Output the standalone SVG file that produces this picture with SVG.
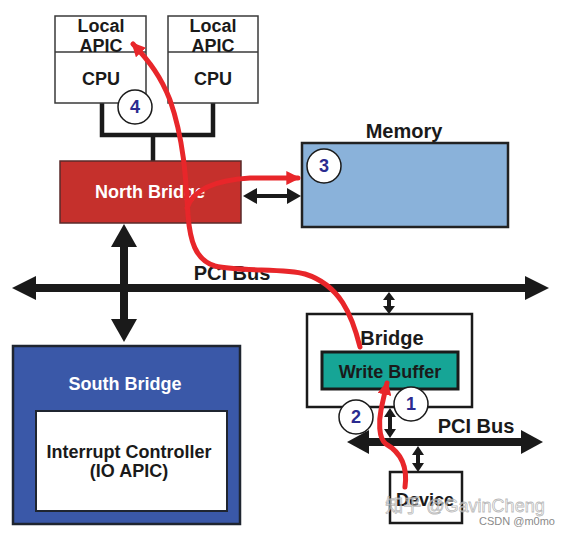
<svg xmlns="http://www.w3.org/2000/svg" width="564" height="535" viewBox="0 0 564 535">
<defs>
<style>
text{font-family:"Liberation Sans",Arial,sans-serif;font-weight:bold;text-anchor:middle}
.box{fill:#fff;stroke:#3a3a3a;stroke-width:1.5}
.t{font-size:18px;fill:#1a1a1a}
.w{font-size:18px;fill:#fff}
.bus{stroke:#1a1a1a;stroke-width:8;fill:none}
.thin{stroke:#1a1a1a;stroke-width:4;fill:none}
.head{fill:#1a1a1a}
.num{fill:#fff;stroke:#1a1a1a;stroke-width:1.5}
.numt{font-size:18px;fill:#2b2b8f}
.red{stroke:#e8262a;stroke-width:5;fill:none;stroke-linecap:round}
</style>
<marker id="ra" viewBox="0 0 12 12" refX="10" refY="6" markerWidth="14" markerHeight="14" markerUnits="userSpaceOnUse" orient="auto">
<path d="M0,0 L12,6 L0,12 Z" fill="#e8262a"/>
</marker>
</defs>
<rect width="564" height="535" fill="#fff"/>

<g id="connectors">
<path stroke="#1a1a1a" stroke-width="4.5" fill="none" d="M102,103 V135 H213 V103 M153,135 V161"/>
<!-- top PCI bus -->
<line class="bus" x1="30" y1="288" x2="530" y2="288"/>
<polygon class="head" points="12,288 36,276 36,300"/>
<polygon class="head" points="549,288 525,276 525,300"/>
<!-- NB-SB -->
<line class="bus" x1="124" y1="244" x2="124" y2="322"/>
<polygon class="head" points="124,224 111,247 137,247"/>
<polygon class="head" points="124,342 111,319 137,319"/>
<!-- NB-Memory -->
<line class="thin" x1="252" y1="196" x2="292" y2="196"/>
<polygon class="head" points="243,196 257,188 257,204"/>
<polygon class="head" points="301,196 287,188 287,204"/>
<!-- PCI-Bridge -->
<line class="thin" x1="389" y1="298" x2="389" y2="308"/>
<polygon class="head" points="389,292 383,300 395,300"/>
<polygon class="head" points="389,314 383,306 395,306"/>
<!-- lower PCI bus -->
<line class="bus" x1="365" y1="442" x2="525" y2="442"/>
<polygon class="head" points="347,442 369,430 369,454"/>
<polygon class="head" points="543,442 521,430 521,454"/>
<!-- Bridge-bus -->
<line class="thin" x1="390" y1="414" x2="390" y2="432"/>
<polygon class="head" points="390,408 384,417 396,417"/>
<polygon class="head" points="390,438 384,429 396,429"/>
<!-- bus-Device -->
<line class="thin" x1="418" y1="452" x2="418" y2="466"/>
<polygon class="head" points="418,446 412,455 424,455"/>
<polygon class="head" points="418,472 412,463 424,463"/>
</g>

<g id="cpu1">
<rect class="box" x="55" y="16" width="91" height="87"/>
<line x1="55" y1="52" x2="146" y2="52" stroke="#3a3a3a" stroke-width="1.5"/>
<text class="t" x="101" y="32">Local</text>
<text class="t" x="101" y="52">APIC</text>
<text class="t" x="101" y="85">CPU</text>
</g>
<g id="cpu2">
<rect class="box" x="168" y="16" width="90" height="87"/>
<line x1="168" y1="52" x2="258" y2="52" stroke="#3a3a3a" stroke-width="1.5"/>
<text class="t" x="213" y="32">Local</text>
<text class="t" x="213" y="52">APIC</text>
<text class="t" x="213" y="85">CPU</text>
</g>

<g id="north-bridge">
<rect x="60" y="161" width="181" height="62" fill="#c5302c" stroke="#5a2a2a" stroke-width="1.5"/>
<text class="w" x="150" y="198">North Bridge</text>
</g>

<g id="memory">
<rect x="302" y="143" width="206" height="84" fill="#8ab2da" stroke="#222" stroke-width="2.5"/>
<text class="t" x="404" y="138" style="font-size:20px">Memory</text>
</g>

<g id="south-bridge">
<rect x="13" y="346" width="227" height="178" fill="#3a58a8" stroke="#1f2530" stroke-width="2.5"/>
<text class="w" x="125" y="390">South Bridge</text>
<rect x="36" y="411" width="191" height="100" fill="#fff" stroke="#1f2530" stroke-width="2"/>
<text class="t" x="129" y="458">Interrupt Controller</text>
<text class="t" x="129" y="477">(IO APIC)</text>
</g>

<g id="bridge">
<rect x="307" y="314" width="165" height="93" fill="#fff" stroke="#1a1a1a" stroke-width="2.5"/>
<text class="t" x="392" y="345" style="font-size:20px">Bridge</text>
</g>
<g id="write-buffer">
<rect x="322" y="352" width="136" height="37" fill="#16a596" stroke="#1a1a1a" stroke-width="3"/>
<text class="t" x="390" y="378">Write Buffer</text>
</g>

<g id="device">
<rect x="390" y="472" width="72" height="51" fill="#fff" stroke="#1a1a1a" stroke-width="2.5"/>
<text class="t" x="425" y="506">Device</text>
</g>

<g id="labels">
<text class="t" x="232" y="280" style="font-size:20px">PCI Bus</text>
<text class="t" x="476" y="433" style="font-size:20px">PCI Bus</text>
</g>

<g id="red-paths">
<path class="red" marker-end="url(#ra)" d="M360,347 C352,315 340,285 305,274 C285,268 240,272 215,266 C195,260 190,240 188,215 C186,180 184,140 170,100 C161,77 150,62 133,44"/>
<path class="red" marker-end="url(#ra)" d="M187,208 C193,190 215,180 250,178 L298,178"/>
<path class="red" marker-end="url(#ra)" d="M405,487 C408,465 400,452 386,444 C378,438 379,420 381,410 C383,400 385,392 387,383"/>
</g>

<g id="step4"><circle class="num" cx="135" cy="107" r="17"/><text class="numt" x="135" y="113">4</text></g>
<g id="step3"><circle class="num" cx="324" cy="166" r="17"/><text class="numt" x="324" y="172">3</text></g>
<g id="step1"><circle class="num" cx="411" cy="404" r="17"/><text class="numt" x="411" y="410">1</text></g>
<g id="step2"><circle class="num" cx="356" cy="417" r="17"/><text class="numt" x="356" y="423">2</text></g>

<g id="watermark">
<text x="465" y="512" style="font-size:18px;font-weight:normal;fill:#ffffff;fill-opacity:0.6;stroke:#9a9a9a;stroke-width:0.8;stroke-opacity:0.7;font-family:'Liberation Sans','Noto Sans CJK SC',sans-serif">知乎 @GavinCheng</text>
<text x="517" y="525" style="font-size:11px;font-weight:normal;fill:#8a8a8a">CSDN @m0mo</text>
</g>
</svg>
